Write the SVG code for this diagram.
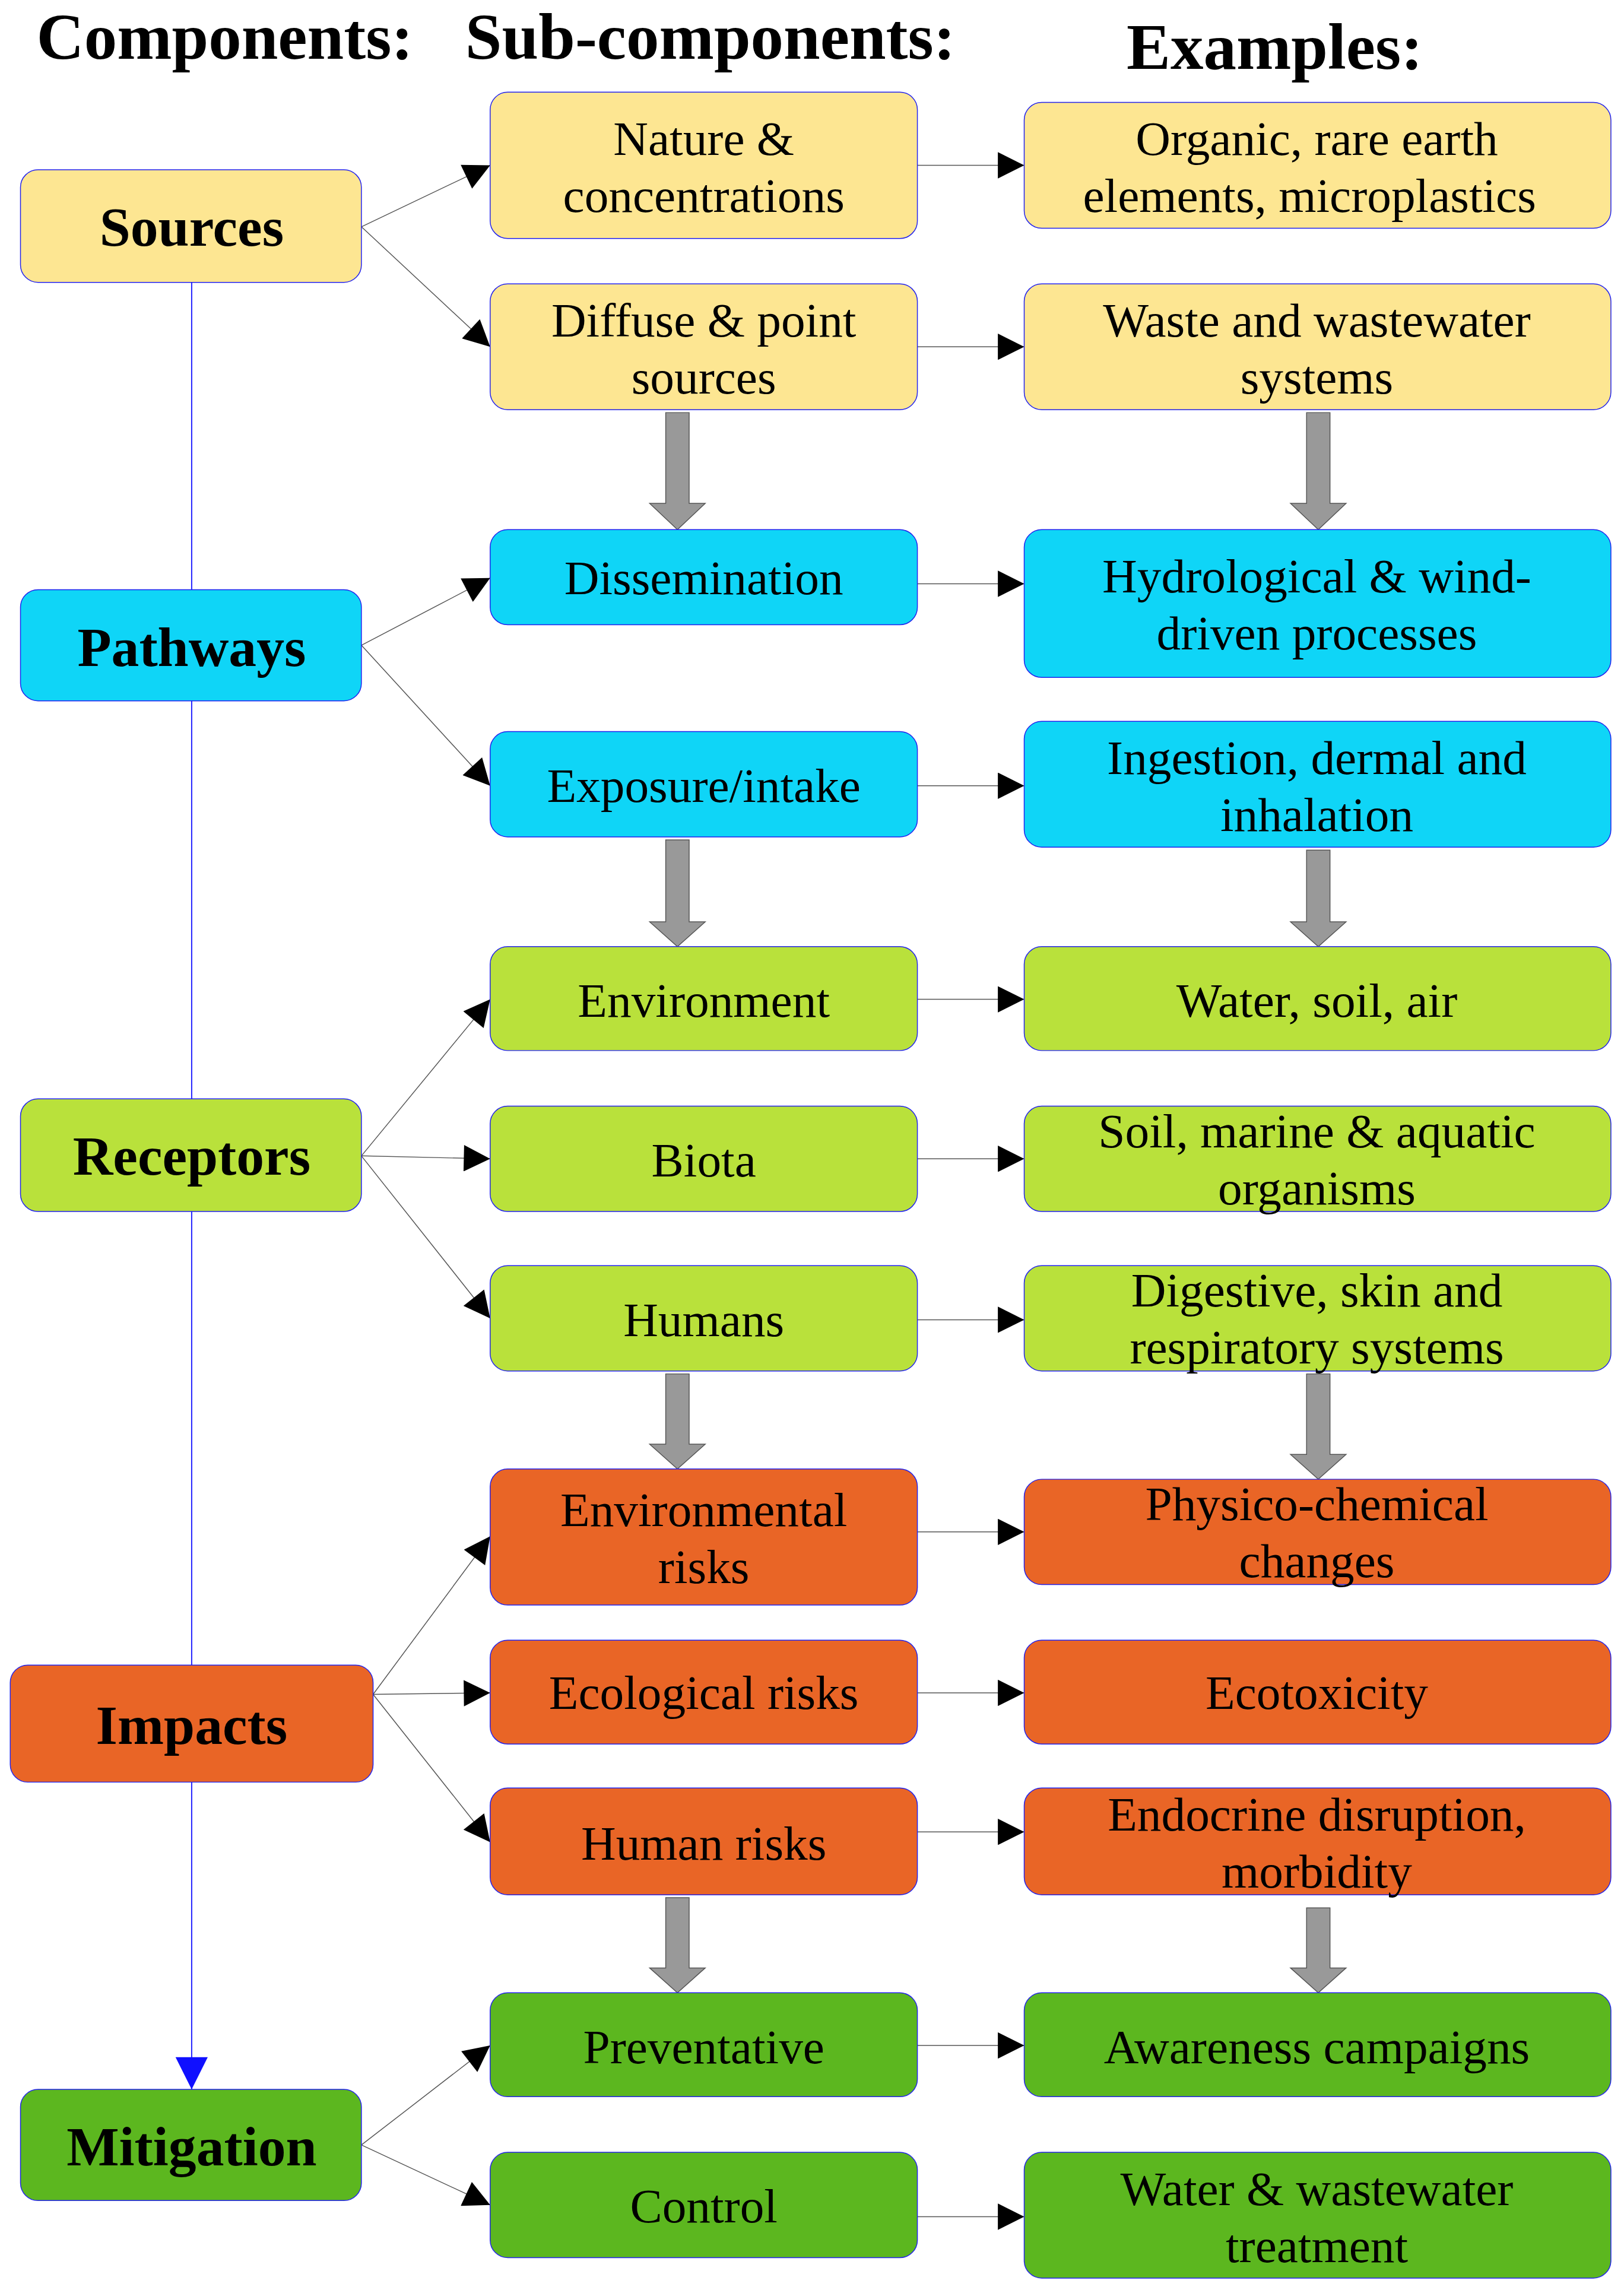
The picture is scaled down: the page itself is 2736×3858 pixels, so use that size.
<svg xmlns="http://www.w3.org/2000/svg" width="2736" height="3858" viewBox="0 0 2736 3858">
<defs>
<style>
.b{stroke:#2222ee;stroke-width:0.6}
.y{fill:#fde692}.c{fill:#0fd5f7}.l{fill:#b9e13b}.o{fill:#e96526}.g{fill:#5cb71f}
text{font-family:"Liberation Serif","Times New Roman",serif;text-anchor:middle;fill:#000}
.t{font-size:45px;font-weight:bold;text-anchor:start}
.m{font-size:38px;font-weight:bold}
.s{font-size:33px}
.k{stroke:#555;stroke-width:0.6;fill:none}
.bl{stroke:#2222ff;stroke-width:0.8;fill:none}
.ba{fill:#999;stroke:#555;stroke-width:0.6}
</style>
<marker id="ah" viewBox="0 0 10 10" refX="10" refY="5" markerWidth="22" markerHeight="18" markerUnits="userSpaceOnUse" orient="auto"><path d="M0,0L10,5L0,10Z" fill="#000"/></marker>
<marker id="bh" viewBox="0 0 10 10" refX="10" refY="5" markerWidth="23" markerHeight="22" markerUnits="userSpaceOnUse" orient="auto"><path d="M0,0L10,5L0,10Z" fill="#1010ff"/></marker>
</defs>
<rect width="2736" height="3858" fill="#fff"/>
<g transform="scale(2.465)">
<text class="t" x="25" y="40">Components:</text>
<text class="t" x="318" y="40">Sub-components:</text>
<text class="t" x="770" y="47">Examples:</text>

<g id="connectors">
<path class="bl" d="M131,193V403M131,479V751M131,828V1138M131,1218V1428" marker-end="url(#bh)"/>
<g class="k" marker-end="url(#ah)">
<path d="M247,155L335,113"/><path d="M247,155L335,237"/>
<path d="M247,441L335,395"/><path d="M247,441L335,537"/>
<path d="M247,790L335,683"/><path d="M247,790L335,792"/><path d="M247,790L335,901"/>
<path d="M255,1158L335,1050"/><path d="M255,1158L335,1157"/><path d="M255,1158L335,1259"/>
<path d="M247,1466L335,1398"/><path d="M247,1466L335,1507"/>
<path d="M627,113H700"/><path d="M627,237H700"/><path d="M627,399H700"/><path d="M627,537H700"/>
<path d="M627,683H700"/><path d="M627,792H700"/><path d="M627,902H700"/>
<path d="M627,1047H700"/><path d="M627,1157H700"/><path d="M627,1252H700"/>
<path d="M627,1398H700"/><path d="M627,1515H700"/>
</g>
<path class="ba" d="M455,282h16v62h11l-19,18l-19,-18h11z"/>
<path class="ba" d="M455,574h16v56h11l-19,17l-19,-17h11z"/>
<path class="ba" d="M455,939h16v48h11l-19,17l-19,-17h11z"/>
<path class="ba" d="M455,1297h16v48h11l-19,17l-19,-17h11z"/>
<path class="ba" d="M893,282h16v62h11l-19,18l-19,-18h11z"/>
<path class="ba" d="M893,581h16v49h11l-19,17l-19,-17h11z"/>
<path class="ba" d="M893,939h16v55h11l-19,17l-19,-17h11z"/>
<path class="ba" d="M893,1304h16v41h11l-19,17l-19,-17h11z"/>
</g>

<g id="sources"><rect class="b y" x="14" y="116" width="233" height="77" rx="12"/><text class="m" x="131" y="168">Sources</text></g>
<g id="nature"><rect class="b y" x="335" y="63" width="292" height="100" rx="12"/><text class="s" x="481" y="106">Nature &amp;</text><text class="s" x="481" y="145">concentrations</text></g>
<g id="diffuse"><rect class="b y" x="335" y="194" width="292" height="86" rx="12"/><text class="s" x="481" y="230">Diffuse &amp; point</text><text class="s" x="481" y="269">sources</text></g>
<g id="ex-organic"><rect class="b y" x="700" y="70" width="401" height="86" rx="12"/><text class="s" x="900" y="106">Organic, rare earth</text><text class="s" x="895" y="145">elements, microplastics</text></g>
<g id="ex-waste"><rect class="b y" x="700" y="194" width="401" height="86" rx="12"/><text class="s" x="900" y="230">Waste and wastewater</text><text class="s" x="900" y="269">systems</text></g>

<g id="pathways"><rect class="b c" x="14" y="403" width="233" height="76" rx="12"/><text class="m" x="131" y="455">Pathways</text></g>
<g id="dissemination"><rect class="b c" x="335" y="362" width="292" height="65" rx="12"/><text class="s" x="481" y="406">Dissemination</text></g>
<g id="exposure"><rect class="b c" x="335" y="500" width="292" height="72" rx="12"/><text class="s" x="481" y="548">Exposure/intake</text></g>
<g id="ex-hydro"><rect class="b c" x="700" y="362" width="401" height="101" rx="12"/><text class="s" x="900" y="405">Hydrological &amp; wind-</text><text class="s" x="900" y="444">driven  processes</text></g>
<g id="ex-ingestion"><rect class="b c" x="700" y="493" width="401" height="86" rx="12"/><text class="s" x="900" y="529">Ingestion, dermal and</text><text class="s" x="900" y="568">inhalation</text></g>

<g id="receptors"><rect class="b l" x="14" y="751" width="233" height="77" rx="12"/><text class="m" x="131" y="803">Receptors</text></g>
<g id="environment"><rect class="b l" x="335" y="647" width="292" height="71" rx="12"/><text class="s" x="481" y="695">Environment</text></g>
<g id="biota"><rect class="b l" x="335" y="756" width="292" height="72" rx="12"/><text class="s" x="481" y="804">Biota</text></g>
<g id="humans"><rect class="b l" x="335" y="865" width="292" height="72" rx="12"/><text class="s" x="481" y="913">Humans</text></g>
<g id="ex-water"><rect class="b l" x="700" y="647" width="401" height="71" rx="12"/><text class="s" x="900" y="695">Water, soil, air</text></g>
<g id="ex-soil"><rect class="b l" x="700" y="756" width="401" height="72" rx="12"/><text class="s" x="900" y="784">Soil, marine &amp; aquatic</text><text class="s" x="900" y="823">organisms</text></g>
<g id="ex-digestive"><rect class="b l" x="700" y="865" width="401" height="72" rx="12"/><text class="s" x="900" y="893">Digestive, skin and</text><text class="s" x="900" y="932">respiratory systems</text></g>

<g id="impacts"><rect class="b o" x="7" y="1138" width="248" height="80" rx="12"/><text class="m" x="131" y="1192">Impacts</text></g>
<g id="env-risks"><rect class="b o" x="335" y="1004" width="292" height="93" rx="12"/><text class="s" x="481" y="1043">Environmental</text><text class="s" x="481" y="1082">risks</text></g>
<g id="eco-risks"><rect class="b o" x="335" y="1121" width="292" height="71" rx="12"/><text class="s" x="481" y="1168">Ecological risks</text></g>
<g id="human-risks"><rect class="b o" x="335" y="1222" width="292" height="73" rx="12"/><text class="s" x="481" y="1271">Human risks</text></g>
<g id="ex-physico"><rect class="b o" x="700" y="1011" width="401" height="72" rx="12"/><text class="s" x="900" y="1039">Physico-chemical</text><text class="s" x="900" y="1078">changes</text></g>
<g id="ex-ecotox"><rect class="b o" x="700" y="1121" width="401" height="71" rx="12"/><text class="s" x="900" y="1168">Ecotoxicity</text></g>
<g id="ex-endocrine"><rect class="b o" x="700" y="1222" width="401" height="73" rx="12"/><text class="s" x="900" y="1251">Endocrine disruption,</text><text class="s" x="900" y="1290">morbidity</text></g>

<g id="mitigation"><rect class="b g" x="14" y="1428" width="233" height="76" rx="12"/><text class="m" x="131" y="1480">Mitigation</text></g>
<g id="preventative"><rect class="b g" x="335" y="1362" width="292" height="71" rx="12"/><text class="s" x="481" y="1410">Preventative</text></g>
<g id="control"><rect class="b g" x="335" y="1471" width="292" height="72" rx="12"/><text class="s" x="481" y="1519">Control</text></g>
<g id="ex-awareness"><rect class="b g" x="700" y="1362" width="401" height="71" rx="12"/><text class="s" x="900" y="1410">Awareness campaigns</text></g>
<g id="ex-treatment"><rect class="b g" x="700" y="1471" width="401" height="86" rx="12"/><text class="s" x="900" y="1507">Water &amp; wastewater</text><text class="s" x="900" y="1546">treatment</text></g>
</g>
</svg>
